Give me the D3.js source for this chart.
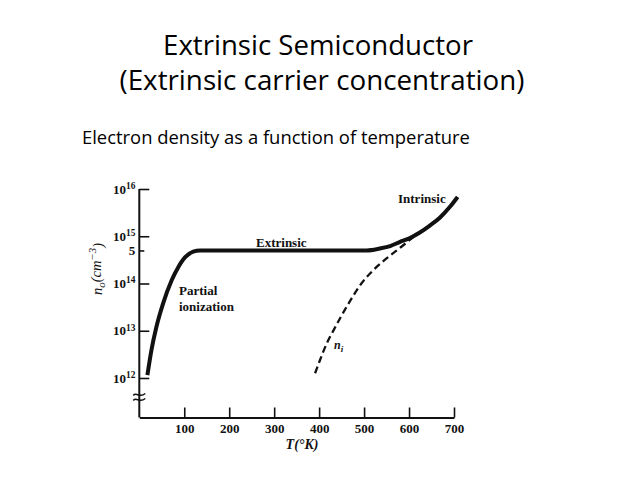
<!DOCTYPE html>
<html>
<head>
<meta charset="utf-8">
<script src="https://cdn.jsdelivr.net/npm/d3@7"></script>
<style>
  body { margin: 0; background: #fff; }
  svg { display: block; }
</style>
</head>
<body>
<svg id="chart" width="638" height="479"></svg>
<script>
// values
const xTicks = [100, 200, 300, 400, 500, 600, 700]
const yTicks = [1e12, 1e13, 1e14, 1e15, 1e16]
const yMinorTick = 5e14

// total electron density n_o(T)
const totalT = [18, 27, 38, 53, 72, 87, 102, 120, 135, 250, 400, 506, 535, 558, 580, 602, 624, 647, 669, 691, 708]
const totalN = [1.15e12, 3.9e12, 1.2e13, 3.8e13, 1.17e14, 2.24e14, 3.6e14, 4.7e14, 5e14, 5e14, 5e14, 5e14,
                5.5e14, 6.2e14, 7.6e14, 9.2e14, 1.2e15, 1.7e15, 2.5e15, 4.2e15, 6.8e15]

// intrinsic density n_i(T), dashed
const niT = [391, 402, 417, 432, 450, 472, 494, 520, 550, 583, 618]
const niN = [1.26e12, 2.4e12, 5.4e12, 1.02e13, 2.1e13, 4.8e13, 1.0e14, 1.9e14, 3.4e14, 6.0e14, 1.12e15]

const svg = d3.select("#chart")
const ink = "#111"
const serif = "'Liberation Serif', 'DejaVu Serif', serif"
const sans = "'Open Sans', 'Noto Sans', sans-serif"

// fit a text element to a given width by changing its font size
function fitWidth(sel, w) {
    const node = sel.node()
    const fs = parseFloat(sel.attr("font-size"))
    const cur = node.getComputedTextLength()
    sel.attr("font-size", (fs * w / cur).toFixed(2))
}

// titles
const t1 = svg.append("text").attr("x", 318).attr("y", 55)
    .attr("text-anchor", "middle").attr("font-family", sans).attr("font-size", 26)
    .attr("fill", "#000").text("Extrinsic Semiconductor")
fitWidth(t1, 310)
const t2 = svg.append("text").attr("x", 322).attr("y", 90)
    .attr("text-anchor", "middle").attr("font-family", sans).attr("font-size", 26)
    .attr("fill", "#000").text("(Extrinsic carrier concentration)")
fitWidth(t2, 405)
const st = svg.append("text").attr("x", 82).attr("y", 144)
    .attr("font-family", sans).attr("font-size", 16)
    .attr("fill", "#000").text("Electron density as a function of temperature")
fitWidth(st, 388)

// scales
const x = d3.scaleLinear().domain([0, 700]).range([139.3, 454])
const y = d3.scaleLog().domain([1e12, 1e16]).range([378, 189])
const yBottom = 417.5

// x axis, ticks pointing up
const gx = svg.append("g").attr("transform", `translate(0,${yBottom})`)
    .call(d3.axisBottom(x).tickValues(xTicks).tickSize(-10).tickSizeOuter(0).tickPadding(6))
gx.select(".domain").attr("stroke", ink).attr("stroke-width", 2)
gx.selectAll(".tick line").attr("stroke", ink).attr("stroke-width", 1.6)
gx.selectAll(".tick text").attr("font-family", serif).attr("font-size", 13)
    .attr("font-weight", "bold").attr("fill", ink)

// y axis, ticks pointing right
const gy = svg.append("g").attr("transform", `translate(${x(0)},0)`)
    .call(d3.axisLeft(y).tickValues(yTicks.concat([yMinorTick])).tickSize(-10).tickSizeOuter(0).tickPadding(4))
gy.select(".domain").attr("d", `M0,${y(1e16)}V${yBottom}`).attr("stroke", ink).attr("stroke-width", 2)
gy.selectAll(".tick line").attr("stroke", ink).attr("stroke-width", 1.6)
    .filter(d => d === yMinorTick).attr("x2", 5)
gy.selectAll(".tick text").each(function (d) {
    const t = d3.select(this).text("").attr("font-family", serif).attr("font-size", 13)
        .attr("font-weight", "bold").attr("fill", ink)
    if (d === yMinorTick) { t.text("5"); return }
    t.append("tspan").text("10")
    t.append("tspan").attr("dy", "-0.5em").attr("font-size", "0.72em").text(Math.round(Math.log10(d)))
})

// axis break mark
const brk = svg.append("g").attr("transform", `translate(${x(0)},397)`)
;[-2.5, 2.5].forEach(dy => {
    brk.append("path")
        .attr("d", `M-6,${dy + 1} C-3,${dy - 3} 0,${dy + 4} 6,${dy - 1}`)
        .attr("fill", "none").attr("stroke", ink).attr("stroke-width", 1.5)
})

// axis titles
svg.append("text").attr("x", 302).attr("y", 449).attr("text-anchor", "middle")
    .attr("font-family", serif).attr("font-size", 14).attr("font-style", "italic")
    .attr("font-weight", "bold").attr("fill", ink).text("T(°K)")

const yl = svg.append("text").attr("transform", "translate(102,269) rotate(-90)")
    .attr("text-anchor", "middle").attr("font-family", serif).attr("font-size", 14.5)
    .attr("font-style", "italic").attr("fill", ink)
yl.append("tspan").text("n")
yl.append("tspan").attr("dy", "0.3em").attr("font-size", "0.75em").text("o")
yl.append("tspan").attr("dy", "-0.3em").text("(cm")
yl.append("tspan").attr("dy", "-0.45em").attr("font-size", "0.75em").text("−3")
yl.append("tspan").attr("dy", "0.45em").text(")")

// curves
const line = d3.line().x(d => x(d[0])).y(d => y(d[1])).curve(d3.curveMonotoneX)

svg.append("path").datum(d3.zip(niT, niN)).attr("d", line)
    .attr("fill", "none").attr("stroke", ink).attr("stroke-width", 2.3)
    .attr("stroke-dasharray", "7,4")

svg.append("path").datum(d3.zip(totalT, totalN)).attr("d", line)
    .attr("fill", "none").attr("stroke", ink).attr("stroke-width", 4)
    .attr("stroke-linejoin", "round")

// region labels
const lab = (tx, ty, s) => svg.append("text").attr("x", tx).attr("y", ty)
    .attr("font-family", serif).attr("font-size", 13).attr("font-weight", "bold")
    .attr("fill", ink).text(s)
lab(256, 247, "Extrinsic")
lab(398, 203, "Intrinsic")
lab(179, 295, "Partial")
lab(179, 311, "ionization")

const ni = svg.append("text").attr("x", 334).attr("y", 349)
    .attr("font-family", serif).attr("font-size", 12).attr("font-style", "italic")
    .attr("font-weight", "bold").attr("fill", ink)
ni.append("tspan").text("n")
ni.append("tspan").attr("dy", "0.35em").attr("font-size", "0.75em").text("i")
</script>
</body>
</html>
